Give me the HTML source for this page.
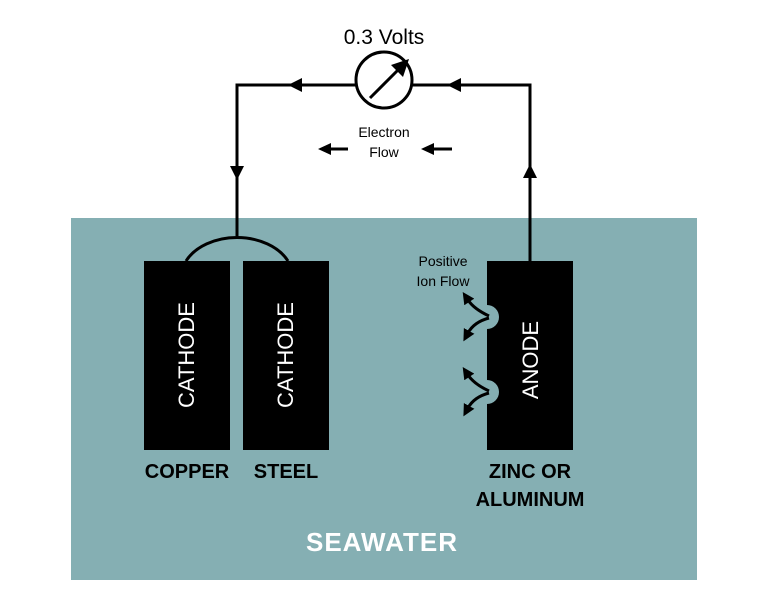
<!DOCTYPE html>
<html><head><style>body{margin:0;background:#fff}svg{display:block}</style></head><body>
<svg width="768" height="604" viewBox="0 0 768 604" xmlns="http://www.w3.org/2000/svg" font-family="Liberation Sans, sans-serif">
<defs><marker id="a" viewBox="0 0 10 10" refX="2" refY="5" markerWidth="4" markerHeight="4" orient="auto"><polygon points="0,0 10,5 0,10" fill="#000"/></marker></defs>
<rect x="71" y="218" width="626" height="362" fill="#85afb3"/>
<g stroke="#000" stroke-width="3" fill="none">
<polyline points="237,236 237,85 356,85"/>
<polyline points="412,85 530,85 530,261"/>
<path d="M186,261 A56,40 0 0 1 288,261"/>
<circle cx="384" cy="80" r="28" fill="#fff"/>
<line x1="370" y1="98" x2="400" y2="68"/>
</g>
<polygon points="409,59 391,65 403,77" fill="#000"/>
<polygon points="288,85 302,78 302,92" fill="#000"/>
<polygon points="447,85 461,78 461,92" fill="#000"/>
<polygon points="237,180 230,166 244,166" fill="#000"/>
<polygon points="530,164 523,178 537,178" fill="#000"/>
<g stroke="#000" stroke-width="3"><line x1="330" y1="149" x2="348" y2="149"/><line x1="434" y1="149" x2="452" y2="149"/></g>
<polygon points="318,149 331,143 331,155" fill="#000"/>
<polygon points="421,149 434,143 434,155" fill="#000"/>
<text x="384" y="44" font-size="21" text-anchor="middle">0.3 Volts</text>
<text x="384" y="137" font-size="14" text-anchor="middle">Electron</text>
<text x="384" y="157" font-size="14" text-anchor="middle">Flow</text>
<rect x="144" y="261" width="86" height="189" fill="#000"/>
<rect x="243" y="261" width="86" height="189" fill="#000"/>
<rect x="487" y="261" width="86" height="189" fill="#000"/>
<circle cx="487" cy="317" r="12" fill="#85afb3"/>
<circle cx="487" cy="392" r="12" fill="#85afb3"/>
<g stroke="#000" stroke-width="3" fill="none" marker-end="url(#a)">
<path d="M489,316 Q474,309 468,300"/><path d="M489,318 Q474,322 468,333"/>
<path d="M489,391 Q474,384 468,375"/><path d="M489,393 Q474,397 468,408"/>
</g>
<text x="443" y="266" font-size="14" text-anchor="middle">Positive</text>
<text x="443" y="286" font-size="14" text-anchor="middle">Ion Flow</text>
<g fill="#fff" font-size="22" text-anchor="middle">
<text transform="translate(194,355) rotate(-90)">CATHODE</text>
<text transform="translate(293,355) rotate(-90)">CATHODE</text>
<text transform="translate(538,360) rotate(-90)">ANODE</text>
</g>
<g font-size="20" font-weight="bold" text-anchor="middle">
<text x="187" y="478">COPPER</text>
<text x="286" y="478">STEEL</text>
<text x="530" y="478">ZINC OR</text>
<text x="530" y="506">ALUMINUM</text>
</g>
<text x="382" y="551" font-size="26" font-weight="bold" fill="#fff" text-anchor="middle" letter-spacing="1">SEAWATER</text>
</svg>
</body></html>
